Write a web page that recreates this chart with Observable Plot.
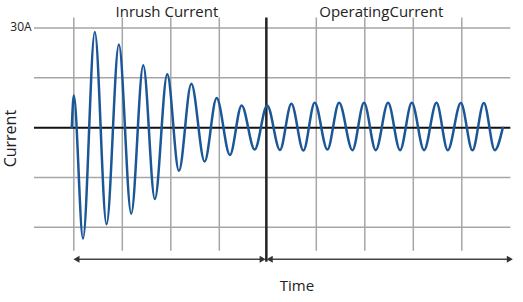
<!DOCTYPE html>
<html>
<head>
<meta charset="utf-8">
<script src="https://cdn.jsdelivr.net/npm/d3@7"></script>
<script src="https://cdn.jsdelivr.net/npm/@observablehq/plot@0.6"></script>
<style>
  html, body { margin: 0; padding: 0; background: #fff; }
  #chart { width: 523px; height: 302px; }
</style>
</head>
<body>
<div id="chart"></div>
<script>
// Waveform extrema (time in grid units, current in A)
const extremaTime = [-0.041, 0, 0.19, 0.433, 0.675, 0.929, 1.184, 1.432, 1.671, 1.927, 2.167, 2.423, 2.697, 2.945, 3.219, 3.46, 3.729, 3.987, 4.251, 4.486, 4.734, 4.967, 5.229, 5.47, 5.745, 5.984, 6.226, 6.48, 6.727, 6.969, 7.222, 7.478, 7.71, 7.98, 8.22, 8.455, 8.68, 8.846];
const extremaCurrent = [0, 9.7, -33.4, 28.8, -29.1, 25.0, -25.9, 18.8, -21.5, 16.1, -13.0, 13.2, -10.2, 8.9, -8.2, 6.7, -6.6, 6.7, -6.7, 7.2, -6.9, 7.5, -6.6, 7.5, -6.8, 7.5, -6.8, 7.5, -6.8, 7.5, -6.8, 7.5, -6.8, 7.4, -6.8, 7.4, -6.8, 0];

const gridTimes = [0, 1, 2, 3, 5, 6, 7, 8];
const gridCurrents = [-30, -15, 15, 30];
const boundaryTime = [3.97];
const phaseLabels = ["Inrush Current", "OperatingCurrent"];
const phaseLabelTimes = [1.92, 6.34];
const phaseStart = [0.076, 4.06];
const phaseEnd = [3.873, 8.97];
const yTickLabel = "30A";
const yTickValue = 30;
const yAxisLabel = "Current";
const xAxisLabel = "Time";

const wave = extremaTime.map((t, i) => ({t, a: extremaCurrent[i]}));
const phases = phaseLabels.map((label, i) => ({label, t: phaseLabelTimes[i], t1: phaseStart[i], t2: phaseEnd[i]}));
const heads = phases.flatMap(p => [{t: p.t1, r: -90}, {t: p.t2, r: 90}]);

const font = "'Open Sans', 'Noto Sans', sans-serif";
const arrowY = -39.6;

const chart = Plot.plot({
  width: 523,
  height: 302,
  marginLeft: 73.3,
  marginRight: 61.7,
  marginTop: 27.5,
  marginBottom: 75.2,
  x: {domain: [0, 8], axis: null},
  y: {domain: [-30, 30], axis: null},
  style: {fontFamily: font, background: "#fff", overflow: "visible"},
  marks: [
    Plot.ruleY(gridCurrents, {x1: -0.811, x2: 9.011, stroke: "#a6a6a6", strokeWidth: 1.5}),
    Plot.ruleX(gridTimes, {y1: 33.0, y2: -37.2, stroke: "#a6a6a6", strokeWidth: 1.5}),
    Plot.ruleY([0], {x1: -0.811, x2: 9.011, stroke: "#111", strokeWidth: 2}),
    Plot.ruleX(boundaryTime, {y1: 33.0, y2: -40.5, stroke: "#222", strokeWidth: 2.5}),
    Plot.line(wave, {x: "t", y: "a", curve: "monotone-x", stroke: "#1b5797", strokeWidth: 2.5}),
    Plot.link(phases, {x1: "t1", x2: "t2", y1: arrowY, y2: arrowY, stroke: "#444", strokeWidth: 1.5}),
    Plot.dot(heads, {x: "t", y: arrowY, symbol: "triangle", rotate: "r", r: 2.6, fill: "#333", stroke: null}),
    Plot.text(phases, {x: "t", y: 34.65, text: "label", fontSize: 15, fill: "#222"}),
    Plot.text([yTickLabel], {x: -0.87, y: yTickValue + 0.3, text: d => d, textAnchor: "end", fontSize: 12, fill: "#222"}),
    Plot.text([yAxisLabel], {x: -1.306, y: -3.3, text: d => d, rotate: -90, fontSize: 16, fill: "#222"}),
    Plot.text([xAxisLabel], {x: 4.6, y: -47.8, text: d => d, fontSize: 15, fill: "#222"})
  ]
});
document.getElementById("chart").appendChild(chart);
</script>
</body>
</html>
